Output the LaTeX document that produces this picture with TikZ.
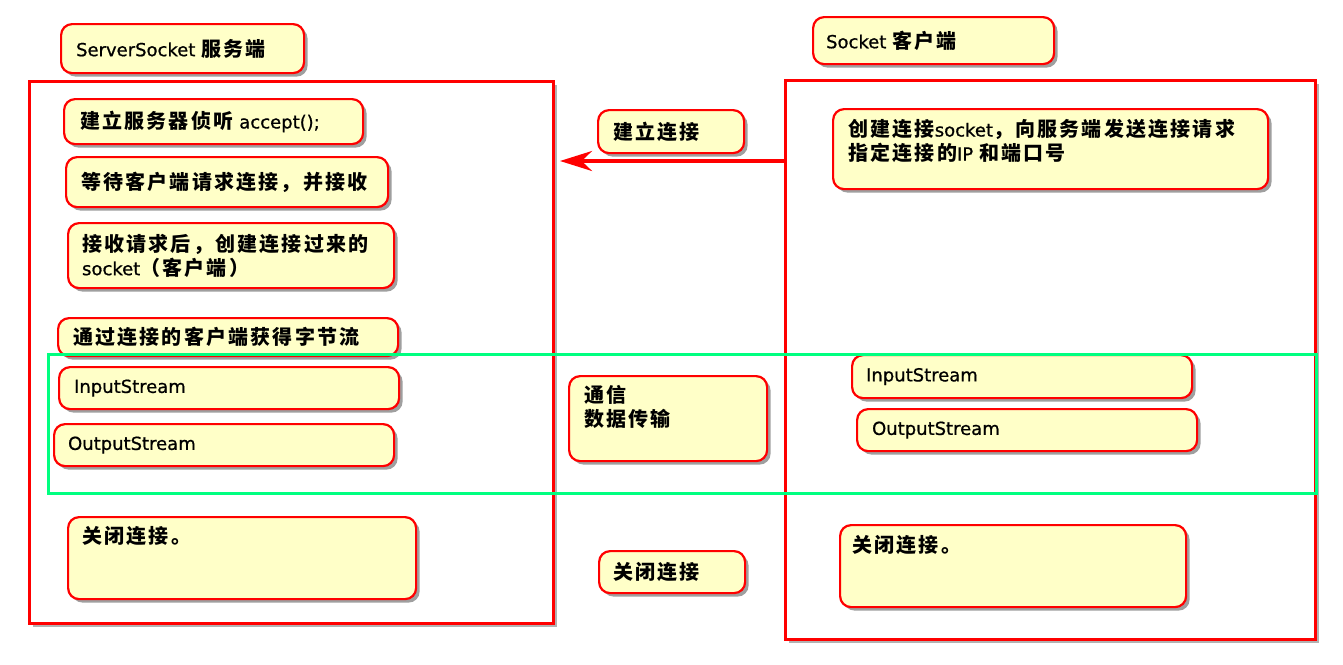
\documentclass[tikz,border=0pt]{standalone}
\usepackage{fontspec}
\setmainfont{DejaVu Sans}[FakeBold=0.8]
\newfontfamily\zhfont{Noto Sans CJK SC}[LetterSpace=11]
\newcommand\zh[1]{{\zhfont\bfseries\fontsize{20pt}{24pt}\selectfont #1}}
\usetikzlibrary{shadows,arrows.meta,calc}
\definecolor{boxfill}{HTML}{FFFFC8}
\definecolor{boxred}{HTML}{FF0000}
\definecolor{sgreen}{HTML}{00FF80}
\tikzset{
  every node/.style={font=\fontsize{18pt}{24pt}\selectfont, text=black},
  sbox/.style={draw=boxred, line width=2.2pt, fill=boxfill, rounded corners=11pt,
    drop shadow={shadow xshift=3.5pt, shadow yshift=-3.5pt, opacity=0.5, fill=black!75},
    anchor=north west, inner ysep=0pt, align=left},
  bigbox/.style={draw=boxred, line width=3pt, fill=white, anchor=north west, inner sep=0pt,
    drop shadow={shadow xshift=3pt, shadow yshift=-3pt, opacity=0.3, fill=black}},
  commbox/.style={draw=sgreen, line width=3pt, anchor=north west, inner sep=0pt},
  btxt/.style={anchor=base west, inner sep=0pt, align=left},
  conn/.style={draw=boxred, line width=3.5pt, -{Stealth[length=32pt,width=20pt]}, shorten >=5pt},
}
\begin{document}
\begin{tikzpicture}[x=1pt,y=-1pt]
\useasboundingbox (0,0) rectangle (1343,664);
% containers
\node[bigbox, minimum width=524pt, minimum height=542pt] (lbox) at (28,80) {};
\node[bigbox, minimum width=530pt, minimum height=559pt] (rbox) at (784,79) {};
% connector
\coordinate (arry) at (0,161);
\draw[conn] (rbox.west |- arry) -- (lbox.east |- arry);
% headers
\node[sbox, inner xsep=15pt, text width=213pt, minimum height=49pt] (ss) at (60,23) {ServerSocket \zh{服务端}};
\node[sbox, inner xsep=13pt, text width=215pt, minimum height=47pt] (cs) at (812,16) {Socket \zh{客户端}};
% server side
\node[sbox, inner xsep=16pt, text width=267pt, minimum height=45pt] (b1) at (63,98) {\zh{建立服务器侦听} accept();};
\node[sbox, inner xsep=15pt, text width=292pt, minimum height=50pt] (b2) at (65,156) {\zh{等待客户端请求连接，并接收}};
\node[sbox, inner xsep=14pt, text width=298pt, minimum height=65pt] (b3) at (67,222) {\zh{接收请求后，创建连接过来的}\\socket\zh{（客户端）}};
\node[sbox, inner xsep=15pt, text width=310pt, minimum height=38pt] (b4) at (57,317) {\zh{通过连接的客户端获得字节流}};
\node[sbox, inner xsep=15pt, text width=310pt, minimum height=42pt] (inl) at (58,366) {InputStream};
\node[sbox, inner xsep=14pt, text width=312pt, minimum height=42pt] (outl) at (53,423) {OutputStream};
\node[sbox, minimum width=348pt, minimum height=82pt] (cll) at (67,516) {};
\node[btxt] (clltxt) at ($(cll.north west)+(15,27.5)$) {\zh{关闭连接。}};
% middle
\node[sbox, inner xsep=15pt, text width=116pt, minimum height=43pt] (conn) at (597,109) {\zh{建立连接}};
\node[sbox, minimum width=198pt, minimum height=85pt] (comm) at (568,375) {};
\node[btxt, text width=170pt] (commtxt) at ($(comm.north west)+(16,27.5)$) {\zh{通信}\\\zh{数据传输}};
\node[sbox, inner xsep=14pt, text width=118pt, minimum height=42pt] (clm) at (598,550) {\zh{关闭连接}};
% client side
\node[sbox, minimum width=435pt, minimum height=80pt] (req) at (832,108) {};
\node[btxt, text width=410pt] (reqtxt) at ($(req.north west)+(16,28.5)$) {\zh{创建连接}socket\zh{，向服务端发送连接请求}\\\zh{指定连接的}IP \zh{和端口号}};
\node[sbox, inner xsep=14pt, text width=312pt, minimum height=43pt] (inr) at (851,354) {InputStream};
\node[sbox, inner xsep=15pt, text width=310pt, minimum height=42pt] (outr) at (856,408) {OutputStream};
\node[sbox, minimum width=346pt, minimum height=82pt] (clr) at (839,524) {};
\node[btxt] (clrtxt) at ($(clr.north west)+(13,28.5)$) {\zh{关闭连接。}};
% communication band
\node[commbox, minimum width=1268pt, minimum height=139pt] (band) at (47,353) {};
\end{tikzpicture}
\end{document}
